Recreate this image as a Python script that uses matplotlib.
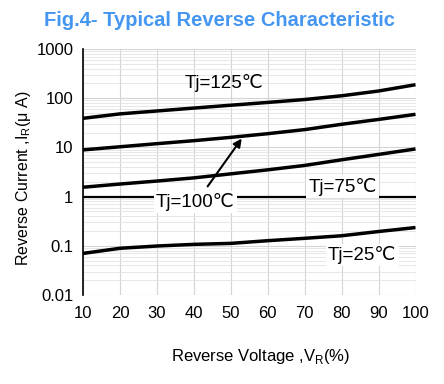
import numpy as np
import matplotlib
matplotlib.use("Agg")
import matplotlib.pyplot as plt
from matplotlib.ticker import LogLocator, NullFormatter

plt.rcParams['font.family'] = ['Liberation Sans', 'DejaVu Sans']

# data (reverse voltage % vs reverse current uA)
voltage = [10, 20, 30, 40, 50, 60, 70, 80, 90, 100]
ir_125 = [39, 48, 55, 63, 72, 82, 94, 112, 140, 188]
ir_100 = [8.9, 10.3, 11.9, 13.7, 16, 19, 23, 29.5, 37, 47]
ir_75 = [1.55, 1.8, 2.07, 2.4, 2.9, 3.5, 4.3, 5.6, 7.2, 9.3]
ir_25 = [0.07, 0.089, 0.099, 0.107, 0.112, 0.127, 0.142, 0.16, 0.195, 0.235]

y_ticks = [0.01, 0.1, 1, 10, 100, 1000]
y_tick_labels = ['0.01', '0.1', '1', '10', '100', '1000']

fig = plt.figure(figsize=(4.44, 3.84), dpi=100)
ax = fig.add_axes([83 / 444, 1 - 295 / 384, (415.5 - 83) / 444, (295 - 49) / 384])

ax.set_yscale('log')
ax.set_xlim(10, 100)
ax.set_ylim(0.01, 1000)

# grid
ax.set_xticks(voltage)
ax.yaxis.set_major_locator(LogLocator(base=10, numticks=10))
ax.yaxis.set_minor_locator(LogLocator(base=10, subs=np.arange(2, 10), numticks=20))
ax.yaxis.set_minor_formatter(NullFormatter())
ax.grid(which='major', axis='both', color='#d4d4d4', linewidth=0.8)
ax.grid(which='minor', axis='y', color='#e3e3e3', linewidth=0.6)
ax.set_yticks(y_ticks)
ax.set_yticklabels(y_tick_labels)

for side in ['top', 'right', 'bottom']:
    ax.spines[side].set_visible(False)
ax.spines['left'].set_color('black')
ax.spines['left'].set_linewidth(1.2)
ax.tick_params(axis='both', which='both', length=0, labelsize=12, pad=7)
ax.tick_params(axis='x', pad=8)

# black reference line at 1 uA
ax.axhline(1, color='black', linewidth=1.6, zorder=2)

for ys in [ir_125, ir_100, ir_75, ir_25]:
    ax.plot(voltage, ys, color='black', linewidth=2.5, solid_capstyle='butt',
            solid_joinstyle='round', zorder=3)

box = dict(facecolor='white', edgecolor='none', pad=1.5)
ax.annotate('', xy=(53.4, 16.8), xytext=(43.3, 1.45),
            arrowprops=dict(arrowstyle='-|>', color='black', lw=1.5, mutation_scale=12), zorder=4)
ax.text(48.2, 200, 'Tj=125\u2103', fontsize=13.5, ha='center', va='center', zorder=5)
ax.text(40.4, 0.79, 'Tj=100\u2103', fontsize=13.5, ha='center', va='center', bbox=box, zorder=5)
ax.text(80.3, 1.6, 'Tj=75\u2103', fontsize=13.5, ha='center', va='center', bbox=box, zorder=5)
ax.text(85.6, 0.065, 'Tj=25\u2103', fontsize=13.5, ha='center', va='center', bbox=box, zorder=5)

ax.set_xlabel('Reverse Voltage ,V$_\\mathregular{R}$(%)', fontsize=12)
ax.xaxis.set_label_coords(0.535, -0.211)
ax.set_ylabel('Reverse Current ,I$_\\mathregular{R}$(\u03bc A)', fontsize=11.5)
ax.yaxis.set_label_coords(-0.150, 0.476)

fig.text(0.495, 1 - 20 / 384, 'Fig.4- Typical Reverse Characteristic', color='#4596F0',
         fontsize=14.5, fontweight='bold', ha='center', va='center')

fig.savefig('out.png', dpi=100)
